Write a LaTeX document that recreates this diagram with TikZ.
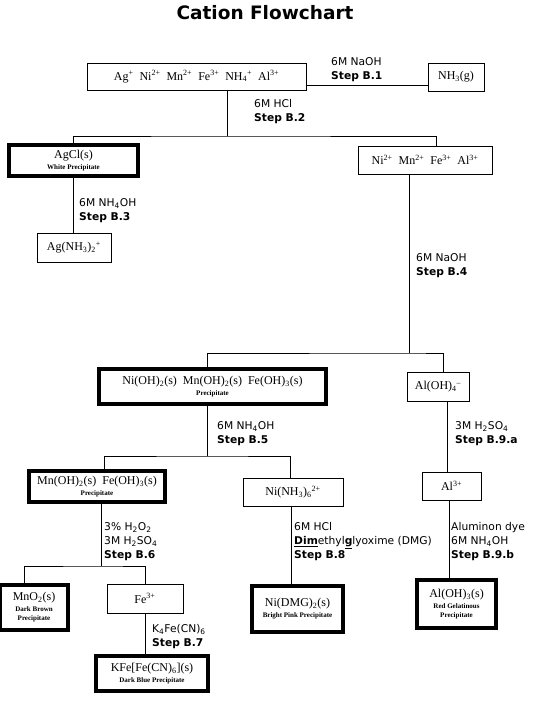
\documentclass[tikz,border=0pt]{standalone}
\usepackage{fontspec}
\setmainfont{Liberation Serif}
\newfontfamily\notefont{DejaVu Sans}
\usepackage{tikz}
\newcommand{\desc}{\fontsize{7}{8}\selectfont\bfseries}

\begin{document}
\begin{tikzpicture}[x=1pt,y=-1pt,
    box/.style={draw,line width=0.8pt,inner sep=0pt,align=center,font=\fontsize{12}{13}\selectfont},
    ppt/.style={box,line width=4pt},
    note/.style={anchor=west,align=left,inner sep=0pt,font=\notefont\fontsize{10.7}{14}\selectfont}]

    \useasboundingbox (0,0) rectangle (534,708);

    \node[font=\notefont\bfseries\fontsize{18.5}{20}\selectfont] (title) at (265,13) {Cation Flowchart};

    \node[box,minimum width=219,minimum height=27] (ions) at (196.5,76.5)
        {Ag\textsuperscript{+}\ \ Ni\textsuperscript{2+}\ \ Mn\textsuperscript{2+}\ \ Fe\textsuperscript{3+}\ \ NH\textsubscript{4}\textsuperscript{+}\ \ Al\textsuperscript{3+}};
    \node[box,minimum width=56,minimum height=28]  (nh3) at (456,77)       {NH\textsubscript{3}(g)};
    \node[ppt,minimum width=129,minimum height=31] (agcl) at (73.5,160.5)  {AgCl(s)\\[-2pt]{\desc White Precipitate}};
    \node[box,minimum width=134,minimum height=28] (ni4) at (425,160)
        {Ni\textsuperscript{2+}\ \ Mn\textsuperscript{2+}\ \ Fe\textsuperscript{3+}\ \ Al\textsuperscript{3+}};
    \node[box,minimum width=74,minimum height=29]  (agnh3) at (74,247.5)   {Ag(NH\textsubscript{3})\textsubscript{2}\textsuperscript{+}};
    \node[ppt,minimum width=227,minimum height=35] (precip3) at (212.5,386.5)
        {Ni(OH)\textsubscript{2}(s)\ \ Mn(OH)\textsubscript{2}(s)\ \ Fe(OH)\textsubscript{3}(s)\\[-2pt]{\desc Precipitate}};
    \node[box,minimum width=62,minimum height=29]  (aloh4) at (438,386.5)  {Al(OH)\textsubscript{4}\textsuperscript{--}};
    \node[ppt,minimum width=136,minimum height=31] (mnfe) at (97,486.5)
        {Mn(OH)\textsubscript{2}(s)\ \ Fe(OH)\textsubscript{3}(s)\\[-2pt]{\desc Precipitate}};
    \node[box,minimum width=100,minimum height=28] (ninh3) at (293,492)    {Ni(NH\textsubscript{3})\textsubscript{6}\textsuperscript{2+}};
    \node[box,minimum width=59,minimum height=28]  (al3) at (451.5,486)    {Al\textsuperscript{3+}};
    \node[ppt,minimum width=68,minimum height=45]  (mno2) at (34,607.5)
        {MnO\textsubscript{2}(s)\\[-2pt]{\desc Dark Brown}\\[-4pt]{\desc Precipitate}};
    \node[box,minimum width=76,minimum height=29]  (fe3) at (145,598.5)    {Fe\textsuperscript{3+}};
    \node[ppt,minimum width=112,minimum height=35] (kfe) at (152,673.5)
        {KFe[Fe(CN)\textsubscript{6}](s)\\[-2pt]{\desc Dark Blue Precipitate}};
    \node[ppt,minimum width=91,minimum height=46]  (nidmg) at (297.5,609)
        {Ni(DMG)\textsubscript{2}(s)\\[-2pt]{\desc Bright Pink Precipitate}};
    \node[ppt,minimum width=79,minimum height=48]  (aloh3) at (456.5,604)
        {Al(OH)\textsubscript{3}(s)\\[-2pt]{\desc Red Gelatinous}\\[-4pt]{\desc Precipitate}};

    \coordinate (j2) at (227,136);
    \coordinate (j4) at (409,353);
    \coordinate (j5) at (207,456);
    \coordinate (j6) at (101,566);

    \draw[line width=0.8pt] ([yshift=-8.5pt]ions.east) -- ([yshift=-8.5pt]ions.east -| nh3.west);
    \draw[line width=0.8pt] (ions.south -| j2) -- (j2);
    \draw[line width=0.8pt] (agcl.north) |- (j2) -| ([xshift=11pt]ni4.north);
    \draw[line width=0.8pt] (agcl.south) -- (agcl.south |- agnh3.north);
    \draw[line width=0.8pt] (ni4.south -| j4) -- (j4);
    \draw[line width=0.8pt] ([xshift=-5.5pt]precip3.north) |- (j4) -| ([xshift=5pt]aloh4.north);
    \draw[line width=0.8pt] (precip3.south -| j5) -- (j5);
    \draw[line width=0.8pt] ([xshift=7pt]mnfe.north) |- (j5) -| ([xshift=-3pt]ninh3.north);
    \draw[line width=0.8pt] ([xshift=9pt]aloh4.south) -- ([xshift=9pt]aloh4.south |- al3.north);
    \draw[line width=0.8pt] (mnfe.south -| j6) -- (j6);
    \draw[line width=0.8pt] ([xshift=-10pt]mno2.north) |- (j6) -| (fe3.north);
    \draw[line width=0.8pt] (fe3.south) -- (fe3.south |- kfe.north);
    \draw[line width=0.8pt] ([xshift=-2pt]ninh3.south) -- ([xshift=-2pt]ninh3.south |- nidmg.north);
    \draw[line width=0.8pt] ([xshift=-2.5pt]al3.south) -- ([xshift=-2.5pt]al3.south |- aloh3.north);

    \node[note] (s1) at (331,70)  {6M NaOH\\\textbf{Step B.1}};
    \node[note] (s2) at (254,111.5) {6M HCl\\\textbf{Step B.2}};
    \node[note] (s3) at (79,210.5)  {6M NH\textsubscript{4}OH\\\textbf{Step B.3}};
    \node[note] (s4) at (416,266)   {6M NaOH\\\textbf{Step B.4}};
    \node[note] (s5) at (217,434)   {6M NH\textsubscript{4}OH\\\textbf{Step B.5}};
    \node[note] (s9a) at (455,434)  {3M H\textsubscript{2}SO\textsubscript{4}\\\textbf{Step B.9.a}};
    \node[note] (s6) at (104,542)   {3\% H\textsubscript{2}O\textsubscript{2}\\3M H\textsubscript{2}SO\textsubscript{4}\\\textbf{Step B.6}};
    \node[note] (s8) at (294,542)
        {6M HCl\\\underline{\textbf{Dim}}ethyl\underline{\textbf{g}}lyoxime (DMG)\\\textbf{Step B.8}};
    \node[note] (s9b) at (451,542)  {Aluminon dye\\6M NH\textsubscript{4}OH\\\textbf{Step B.9.b}};
    \node[note] (s7) at (152,636.5) {K\textsubscript{4}Fe(CN)\textsubscript{6}\\\textbf{Step B.7}};
  \end{tikzpicture}
\end{document}
